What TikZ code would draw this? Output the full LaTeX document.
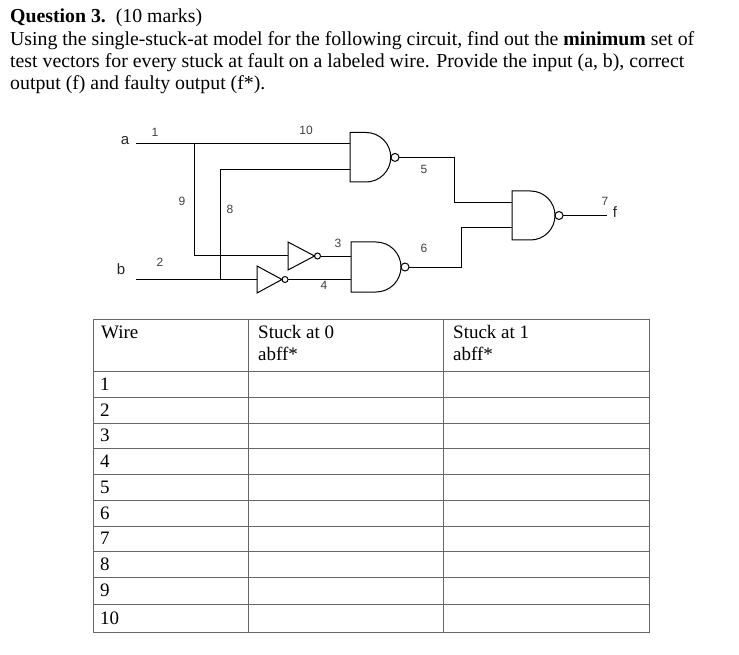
\documentclass[tikz,border=0pt]{standalone}
\usepackage{fontspec}
\setmainfont{Liberation Serif}
\newfontfamily\lblfont{Liberation Sans}
\begin{document}
\begin{tikzpicture}[x=1pt,y=-1pt,
  wire/.style={line width=0.8pt},
  gate/.style={line width=1pt},
  lbl/.style={font=\lblfont\fontsize{12}{13}\selectfont, text=black!75, inner sep=0pt},
  io/.style={font=\lblfont\fontsize{15}{16}\selectfont, text=black!85, inner sep=0pt},
  txt/.style={font=\fontsize{19.8}{22}\selectfont, anchor=west, inner sep=0pt},
  cell/.style={font=\fontsize{19}{21}\selectfont, anchor=west, inner sep=0pt},
  grid/.style={draw=black!60, line width=0.8pt}]
\useasboundingbox (0,0) rectangle (739,655);
% header text
\node[txt] (t1) at (10,18) {\textbf{Question 3.}\ \ (10 marks)};
\node[txt] (t2) at (10,41) {Using the single-stuck-at model for the following circuit, find out the \textbf{minimum} set of};
\node[txt] (t3) at (10,63) {test vectors for every stuck at fault on a labeled wire. Provide the input (a, b), correct};
\node[txt] (t4) at (10,85) {output (f) and faulty output (f*).};
% gates
\draw[gate] (350,132.5) -- (366,132.5) arc[start angle=-90,end angle=90,radius=24.75] -- (350,182) -- cycle;
\draw[gate] (395,157.4) circle (4);
\draw[gate] (351,242) -- (376,242) arc[start angle=-90,end angle=90,radius=25] -- (351,292) -- cycle;
\draw[gate] (405,267) circle (4);
\draw[gate] (512,191) -- (530.5,191) arc[start angle=-90,end angle=90,radius=24.5] -- (512,240) -- cycle;
\draw[gate] (559,215.5) circle (4);
% inverters
\draw[gate] (288,242) -- (314.5,256) -- (288,270) -- cycle;
\draw[gate] (317.5,256) circle (3);
\draw[gate] (257,266) -- (282,279.5) -- (257,293) -- cycle;
\draw[gate] (285,279.5) circle (3);
% wires
\draw[wire] (136,143.6) -- (350,143.6);
\draw[wire] (194.5,143.6) -- (194.5,255) -- (288,255);
\draw[wire] (220,279.5) -- (220,169) -- (350,169);
\draw[wire] (136,279.5) -- (257,279.5);
\draw[wire] (320.5,256) -- (351,256);
\draw[wire] (288,279.5) -- (351,279.5);
\draw[wire] (399,157.4) -- (454.6,157.4) -- (454.6,202) -- (512,202);
\draw[wire] (409,267) -- (461.6,267) -- (461.6,227.6) -- (512,227.6);
\draw[wire] (563,215.5) -- (607,215.5);
% labels
\node[io] (la) at (125,141) {a};
\node[io] (lb) at (121,269) {b};
\node[io] (lf) at (615,212) {f};
\node[lbl] (l1) at (155,132) {1};
\node[lbl] (l10) at (306,130) {10};
\node[lbl] (l5) at (424,169) {5};
\node[lbl] (l9) at (182,201) {9};
\node[lbl] (l8) at (230,209) {8};
\node[lbl] (l7) at (605,201) {7};
\node[lbl] (l3) at (338,243) {3};
\node[lbl] (l6) at (424,248) {6};
\node[lbl] (l4) at (324,285) {4};
\node[lbl] (l2) at (160,262) {2};
% table
\draw[grid] (93,319) rectangle (649,632);
\foreach \yy in {371,397,423,448,474,500,526,551,577,604} \draw[grid] (93,\yy) -- (649,\yy);
\draw[grid] (248,319) -- (248,632);
\draw[grid] (443,319) -- (443,632);
\node[cell] (hw) at (101,332) {Wire};
\node[cell] (h0) at (258,332) {Stuck at 0};
\node[cell] (h0b) at (258,354) {abff*};
\node[cell] (h1) at (453,332) {Stuck at 1};
\node[cell] (h1b) at (453,354) {abff*};
\foreach \n/\yy in {1/384,2/410,3/435.5,4/461,5/487,6/513,7/538.5,8/564,9/590.5,10/618}
  \node[cell] (r\n) at (100,\yy) {\n};
\end{tikzpicture}
\end{document}
